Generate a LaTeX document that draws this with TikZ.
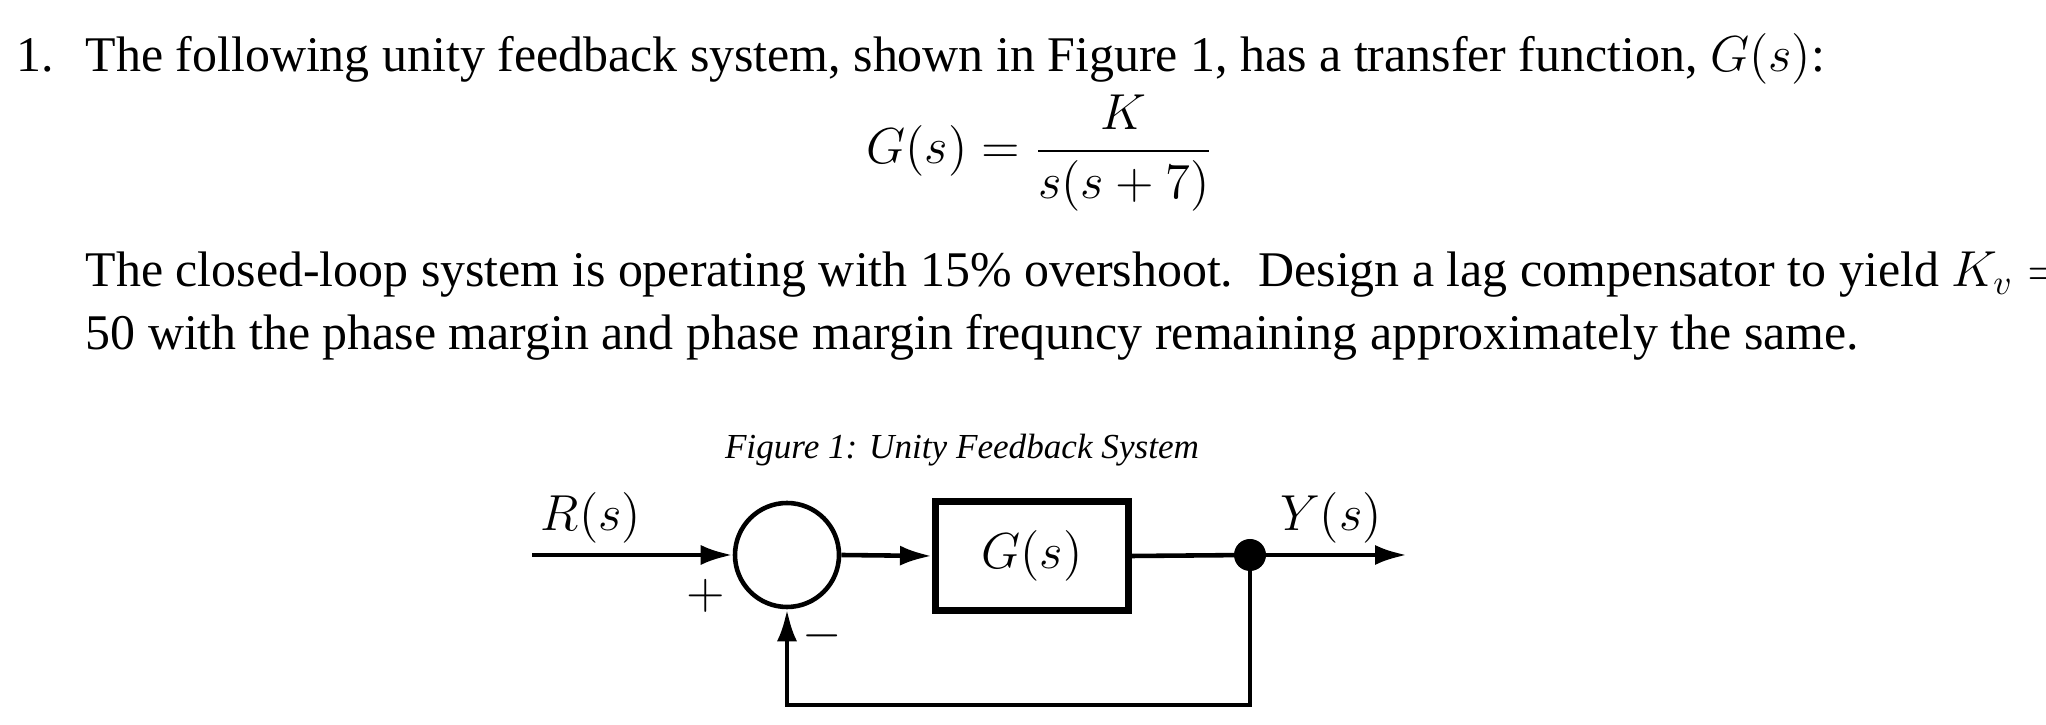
\documentclass[tikz,border=0pt]{standalone}
\usepackage{amsmath}
\usepackage{fontspec}
\setmainfont{Liberation Serif}
\usetikzlibrary{arrows.meta}
\begin{document}
\begin{tikzpicture}[x=1cm,y=1cm,
  txt/.style={font=\fontsize{14.2}{18}\selectfont, inner sep=0pt},
  lbl/.style={font=\fontsize{15}{18}\selectfont, inner sep=0pt},
  sig/.style={line width=1.3pt},
  arr/.style={sig,-{Latex[length=0.32cm,width=0.2cm]}}]
\useasboundingbox (0,0) rectangle (20.46,7.25);
\node[txt,anchor=base west] (num) at (0.16,6.53) {1.};
\node[txt,anchor=base west] (l1) at (0.85,6.53) {The following unity feedback system, shown in Figure 1, has a transfer function, $G(s)$:};
\node[txt] (eq) at (10.4,5.72) {$G(s)=\dfrac{K}{s(s+7)}$};
\node[txt,anchor=base west] (p1) at (0.85,4.38) {The closed-loop system is operating with 15\% overshoot.\ \ Design a lag compensator to yield $K_v=$};
\node[txt,anchor=base west] (p2) at (0.85,3.75) {50 with the phase margin and phase margin frequncy remaining approximately the same.};
\node[lbl,font=\fontsize{10}{12}\selectfont\itshape] (cap) at (9.62,2.75) {Figure 1: Unity Feedback System};
\coordinate (in) at (5.32,1.70);
\node[draw,sig,circle,minimum size=1.04cm,inner sep=0pt] (sum) at (7.87,1.70) {};
\node[draw,line width=2pt,minimum width=1.93cm,minimum height=1.09cm,inner sep=0pt,lbl] (G) at (10.32,1.69) {$G(s)$};
\fill (12.50,1.70) circle (0.16) coordinate (dot);
\coordinate (out) at (14.07,1.70);
\coordinate (bot) at (12.50,0.20);
\coordinate (botl) at (7.87,0.20);
\draw[arr] (in) -- (sum.west);
\draw[arr] (sum.east) -- (G.west);
\draw[sig] (G.east) -- (dot);
\draw[arr] (dot) -- (out);
\draw[arr] (dot) -- (bot) -- (botl) -- (sum.south);
\node[lbl] (R) at (5.91,2.07) {$R(s)$};
\node[lbl] (Y) at (13.31,2.07) {$Y(s)$};
\node[lbl] (plus) at (7.06,1.29) {$+$};
\node[lbl] (minus) at (8.22,0.89) {$-$};
\end{tikzpicture}
\end{document}
